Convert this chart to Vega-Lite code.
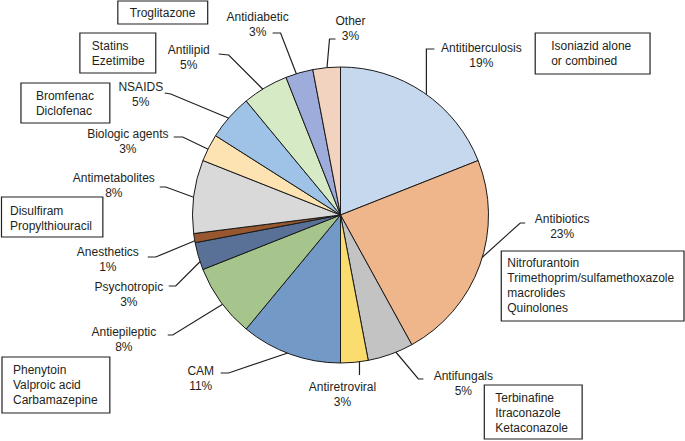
{
  "$schema": "https://vega.github.io/schema/vega-lite/v6.json",
  "width": 685,
  "height": 441,
  "autosize": {"type": "fit", "contains": "padding"},
  "padding": 0,
  "background": "white",
  "config": {"view": {"stroke": null}, "font": "Liberation Sans"},
  "datasets": {
    "pie": [
      {"idx": 1, "cls": "Antitiberculosis", "pct": 19},
      {"idx": 2, "cls": "Antibiotics", "pct": 23},
      {"idx": 3, "cls": "Antifungals", "pct": 5},
      {"idx": 4, "cls": "Antiretroviral", "pct": 3},
      {"idx": 5, "cls": "CAM", "pct": 11},
      {"idx": 6, "cls": "Antiepileptic", "pct": 8},
      {"idx": 7, "cls": "Psychotropic", "pct": 3},
      {"idx": 8, "cls": "Anesthetics", "pct": 1},
      {"idx": 9, "cls": "Antimetabolites", "pct": 8},
      {"idx": 10, "cls": "Biologic agents", "pct": 3},
      {"idx": 11, "cls": "NSAIDS", "pct": 5},
      {"idx": 12, "cls": "Antilipid", "pct": 5},
      {"idx": 13, "cls": "Antidiabetic", "pct": 3},
      {"idx": 14, "cls": "Other", "pct": 3}
    ],
    "leaders": [
      {"id": "Antitiberculosis", "s": 1, "u": 86, "v": 118},
      {"id": "Antitiberculosis", "s": 2, "u": 86, "v": 166},
      {"id": "Antitiberculosis", "s": 3, "u": 94, "v": 166},
      {"id": "Antibiotics", "s": 1, "u": 139, "v": -45},
      {"id": "Antibiotics", "s": 2, "u": 180, "v": -8},
      {"id": "Antibiotics", "s": 3, "u": 185, "v": -8},
      {"id": "Antifungals", "s": 1, "u": 52, "v": -133},
      {"id": "Antifungals", "s": 2, "u": 78, "v": -164},
      {"id": "Antifungals", "s": 3, "u": 83, "v": -164},
      {"id": "Antiretroviral", "s": 1, "u": 19, "v": -142},
      {"id": "Antiretroviral", "s": 2, "u": 19, "v": -160},
      {"id": "CAM", "s": 1, "u": -47, "v": -136},
      {"id": "CAM", "s": 2, "u": -112, "v": -158},
      {"id": "CAM", "s": 3, "u": -120, "v": -158},
      {"id": "Antiepileptic", "s": 1, "u": -116, "v": -88},
      {"id": "Antiepileptic", "s": 2, "u": -168, "v": -120},
      {"id": "Antiepileptic", "s": 3, "u": -173, "v": -120},
      {"id": "Psychotropic", "s": 1, "u": -139, "v": -45},
      {"id": "Psychotropic", "s": 2, "u": -165, "v": -71},
      {"id": "Psychotropic", "s": 3, "u": -172, "v": -71},
      {"id": "Anesthetics", "s": 1, "u": -144, "v": -25},
      {"id": "Anesthetics", "s": 2, "u": -185, "v": -42},
      {"id": "Anesthetics", "s": 3, "u": -193, "v": -42},
      {"id": "Antimetabolites", "s": 1, "u": -145, "v": 17},
      {"id": "Antimetabolites", "s": 2, "u": -175, "v": 28},
      {"id": "Antimetabolites", "s": 3, "u": -181, "v": 28},
      {"id": "Biologic agents", "s": 1, "u": -131, "v": 65},
      {"id": "Biologic agents", "s": 2, "u": -158, "v": 78},
      {"id": "Biologic agents", "s": 3, "u": -167, "v": 78},
      {"id": "NSAIDS", "s": 1, "u": -110, "v": 96},
      {"id": "NSAIDS", "s": 2, "u": -170, "v": 121},
      {"id": "NSAIDS", "s": 3, "u": -176, "v": 122},
      {"id": "Antilipid", "s": 1, "u": -76, "v": 124},
      {"id": "Antilipid", "s": 2, "u": -112, "v": 160},
      {"id": "Antilipid", "s": 3, "u": -122, "v": 161},
      {"id": "Antidiabetic", "s": 1, "u": -43, "v": 138},
      {"id": "Antidiabetic", "s": 2, "u": -60, "v": 182},
      {"id": "Antidiabetic", "s": 3, "u": -68, "v": 182},
      {"id": "Other", "s": 1, "u": -14, "v": 142},
      {"id": "Other", "s": 2, "u": -11, "v": 176},
      {"id": "Other", "s": 3, "u": -5, "v": 176}
    ],
    "labels": [
      {"text": "Antitiberculosis\n19%", "u": 141, "v": 167},
      {"text": "Antibiotics\n23%", "u": 222, "v": -4},
      {"text": "Antifungals\n5%", "u": 123, "v": -161},
      {"text": "Antiretroviral\n3%", "u": 2, "v": -172},
      {"text": "CAM\n11%", "u": -140, "v": -156},
      {"text": "Antiepileptic\n8%", "u": -217, "v": -117},
      {"text": "Psychotropic\n3%", "u": -212, "v": -72},
      {"text": "Anesthetics\n1%", "u": -233, "v": -37},
      {"text": "Antimetabolites\n8%", "u": -227, "v": 37},
      {"text": "Biologic agents\n3%", "u": -213, "v": 81},
      {"text": "NSAIDS\n5%", "u": -200, "v": 128},
      {"text": "Antilipid\n5%", "u": -152, "v": 165},
      {"text": "Antidiabetic\n3%", "u": -83, "v": 198},
      {"text": "Other\n3%", "u": 10, "v": 194}
    ],
    "boxes": [
      {"u": 195, "u2": 310, "v": 182, "v2": 141, "tu": 211, "tv": 169, "text": "Isoniazid alone\nor combined"},
      {"u": 161, "u2": 344, "v": -36, "v2": -106, "tu": 167, "tv": -48, "text": "Nitrofurantoin\nTrimethoprim/sulfamethoxazole\nmacrolides\nQuinolones"},
      {"u": 144, "u2": 242, "v": -170, "v2": -224, "tu": 155, "tv": -183, "text": "Terbinafine\nItraconazole\nKetaconazole"},
      {"u": -339, "u2": -231, "v": -142, "v2": -198, "tu": -328, "tv": -155, "text": "Phenytoin\nValproic acid\nCarbamazepine"},
      {"u": -339.5, "u2": -238, "v": 18, "v2": -22, "tu": -331, "tv": 4, "text": "Disulfiram\nPropylthiouracil"},
      {"u": -320, "u2": -231, "v": 132, "v2": 92, "tu": -305, "tv": 119, "text": "Bromfenac\nDiclofenac"},
      {"u": -261, "u2": -185, "v": 182, "v2": 142, "tu": -249, "tv": 169, "text": "Statins\nEzetimibe"},
      {"u": -223, "u2": -133, "v": 214, "v2": 191, "tu": -211, "tv": 202, "text": "Troglitazone"}
    ]
  },
  "layer": [
    {
      "data": {"name": "leaders"},
      "mark": {"type": "line", "color": "#231f20", "strokeWidth": 1.2},
      "encoding": {
        "x": {"field": "u", "type": "quantitative", "scale": {"domain": [-340, 345], "nice": false, "zero": false}, "axis": null},
        "y": {"field": "v", "type": "quantitative", "scale": {"domain": [-226, 215], "nice": false, "zero": false}, "axis": null},
        "detail": {"field": "id", "type": "nominal"},
        "order": {"field": "s", "type": "quantitative"}
      }
    },
    {
      "data": {"name": "pie"},
      "mark": {"type": "arc", "radius": 148, "stroke": "#1a1a1a", "strokeWidth": 1},
      "encoding": {
        "theta": {"field": "pct", "type": "quantitative", "stack": true},
        "order": {"field": "idx", "type": "quantitative"},
        "color": {
          "field": "cls",
          "type": "nominal",
          "legend": null,
          "scale": {
            "domain": ["Antitiberculosis", "Antibiotics", "Antifungals", "Antiretroviral", "CAM", "Antiepileptic", "Psychotropic", "Anesthetics", "Antimetabolites", "Biologic agents", "NSAIDS", "Antilipid", "Antidiabetic", "Other"],
            "range": ["#c6d8ee", "#eeb68a", "#c3c3c3", "#fbdc6f", "#7399c7", "#a6c58c", "#5a7197", "#99572f", "#d8d9d8", "#fde3b2", "#9ec3e6", "#d6eac6", "#9dacdb", "#f2d3c0"]
          }
        },
        "x": {"datum": 0, "type": "quantitative", "scale": {"domain": [-340, 345], "nice": false, "zero": false}, "axis": null},
        "y": {"datum": 0, "type": "quantitative", "scale": {"domain": [-226, 215], "nice": false, "zero": false}, "axis": null}
      }
    },
    {
      "data": {"name": "labels"},
      "mark": {"type": "text", "fontSize": 12, "color": "#231f20", "align": "center", "baseline": "alphabetic", "dy": 4, "lineBreak": "\n", "lineHeight": 15},
      "encoding": {
        "x": {"field": "u", "type": "quantitative", "scale": {"domain": [-340, 345], "nice": false, "zero": false}, "axis": null},
        "y": {"field": "v", "type": "quantitative", "scale": {"domain": [-226, 215], "nice": false, "zero": false}, "axis": null},
        "text": {"field": "text", "type": "nominal"}
      }
    },
    {
      "data": {"name": "boxes"},
      "mark": {"type": "rect", "fill": "white", "stroke": "#231f20", "strokeWidth": 1.2},
      "encoding": {
        "x": {"field": "u", "type": "quantitative", "scale": {"domain": [-340, 345], "nice": false, "zero": false}, "axis": null},
        "x2": {"field": "u2"},
        "y": {"field": "v", "type": "quantitative", "scale": {"domain": [-226, 215], "nice": false, "zero": false}, "axis": null},
        "y2": {"field": "v2"}
      }
    },
    {
      "data": {"name": "boxes"},
      "mark": {"type": "text", "fontSize": 12, "color": "#231f20", "align": "left", "baseline": "alphabetic", "dy": 4, "lineBreak": "\n", "lineHeight": 15},
      "encoding": {
        "x": {"field": "tu", "type": "quantitative", "scale": {"domain": [-340, 345], "nice": false, "zero": false}, "axis": null},
        "y": {"field": "tv", "type": "quantitative", "scale": {"domain": [-226, 215], "nice": false, "zero": false}, "axis": null},
        "text": {"field": "text", "type": "nominal"}
      }
    }
  ]
}
